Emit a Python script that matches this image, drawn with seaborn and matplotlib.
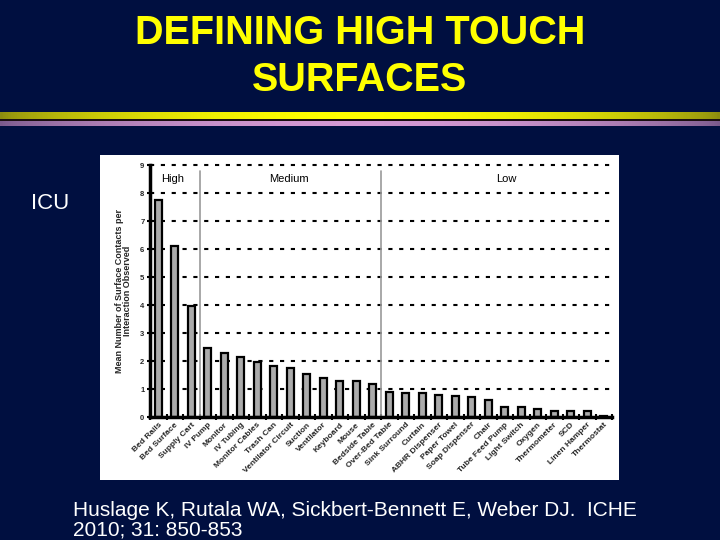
import numpy as np
import pandas as pd
import matplotlib
matplotlib.use("Agg")
import matplotlib.pyplot as plt
from matplotlib.patches import Rectangle
import seaborn as sns

surfaces = ["Bed Rails", "Bed Surface", "Supply Cart", "IV Pump", "Monitor",
            "IV Tubing", "Monitor Cables", "Trash Can", "Ventilator Circuit",
            "Suction", "Ventilator", "Keyboard", "Mouse", "Bedside Table",
            "Over-Bed Table", "Sink Surround", "Curtain", "ABHR Dispenser",
            "Paper Towel", "Soap Dispenser", "Chair", "Tube Feed Pump",
            "Light Switch", "Oxygen", "Thermometer", "SCD", "Linen Hamper",
            "Thermostat"]
contacts = [7.75, 6.1, 3.95, 2.45, 2.27, 2.15, 1.95, 1.83, 1.74, 1.54, 1.38,
            1.27, 1.27, 1.18, 0.89, 0.87, 0.87, 0.79, 0.74, 0.72, 0.62, 0.35,
            0.35, 0.27, 0.21, 0.22, 0.2, 0.05]
groups = ["High", "Medium", "Low"]
group_sizes = [3, 11, 14]

df = pd.DataFrame({"surface": surfaces, "contacts": contacts})

sns.set_theme(style="white")
plt.rcParams['font.family'] = ['Liberation Sans', 'DejaVu Sans']

navy = "#000f40"
fig = plt.figure(figsize=(7.2, 5.4), dpi=100, facecolor=navy)

# title
fig.text(0.5, 1 - 33 / 540, "DEFINING HIGH TOUCH", color="#ffff00",
         fontsize=28.5, fontweight="bold", ha="center", va="center")
fig.text(0.5, 1 - 80 / 540, "SURFACES", color="#ffff00",
         fontsize=28.5, fontweight="bold", ha="center", va="center")

# separator bars under the title
grad = np.sin(np.linspace(0, np.pi, 256)) ** 0.7
ax_y = fig.add_axes([0, 1 - 119 / 540, 1, 7 / 540])
ax_y.imshow(grad[None, :], aspect="auto", cmap=matplotlib.colors.LinearSegmentedColormap.from_list(
    "y", ["#8c8c10", "#ffff00"]), extent=[0, 1, 0, 1])
ax_y.set_axis_off()
ax_d = fig.add_axes([0, 1 - 121 / 540, 1, 2 / 540])
ax_d.set_facecolor("#1a1010")
ax_d.set_xticks([])
ax_d.set_yticks([])
for s in ax_d.spines.values():
    s.set_visible(False)
ax_p = fig.add_axes([0, 1 - 126 / 540, 1, 5 / 540])
ax_p.imshow(grad[None, :], aspect="auto", cmap=matplotlib.colors.LinearSegmentedColormap.from_list(
    "p", ["#7a5a8c", "#d49ad4"]), extent=[0, 1, 0, 1])
ax_p.set_axis_off()

fig.text(31 / 720, 1 - 203 / 540, "ICU", color="white", fontsize=16,
         ha="left", va="center")

# white picture panel
fig.patches.append(Rectangle((100 / 720, 1 - 480 / 540), 519 / 720, 325 / 540,
                             transform=fig.transFigure, facecolor="white",
                             edgecolor="none", zorder=-1))

ax = fig.add_axes([150 / 720, 1 - 417 / 540, 462 / 720, 252 / 540])
ax.set_facecolor("none")
sns.barplot(data=df, x="surface", y="contacts", color="#ababab",
            edgecolor="black", linewidth=1.6, width=0.42, saturation=1, ax=ax)

ax.set_ylim(0, 9)
ax.set_xlim(-0.42, len(surfaces) - 1 + 0.48)
ax.set_yticks(range(10))
for v in range(1, 10):
    ax.axhline(v, color="black", linestyle=(0, (2, 3.2)), linewidth=1.5,
               zorder=0, clip_on=False)

# group dividers and labels
edges = np.cumsum([0] + group_sizes) - 0.5
for e in edges[1:-1]:
    ax.plot([e, e], [0, 8.78], color="#999999", linewidth=1.2, zorder=1)
label_x = [0.9, 7.9, 21.1]
for g, lx in zip(groups, label_x):
    ax.text(lx, 8.5, g, fontsize=8, ha="center", va="center", color="black")

ax.set_xticks(range(len(surfaces)))
ax.set_xticklabels(surfaces, rotation=45, ha="right", rotation_mode="anchor",
                   fontsize=6, fontweight="bold")
ax.set_xticks(np.arange(len(surfaces) + 1) - 0.5, minor=True)
ax.tick_params(axis="x", which="major", length=0, pad=3)
ax.tick_params(axis="x", which="minor", length=4, width=1.5, direction="inout",
               bottom=True, color="black")
ax.tick_params(axis="y", length=4, width=1.5, direction="inout", left=True,
               labelsize=5.5, color="black", pad=2)
for t in ax.get_yticklabels():
    t.set_fontweight("bold")

ax.set_xlabel("")
ax.set_ylabel("Mean Number of Surface Contacts per\nInteraction Observed",
              fontsize=6.5, fontweight="bold", labelpad=6, linespacing=0.9)
sns.despine(ax=ax, top=True, right=True)
ax.spines["left"].set_linewidth(2.5)
ax.spines["bottom"].set_linewidth(2.5)
ax.spines["left"].set_color("black")
ax.spines["bottom"].set_color("black")

fig.text(73 / 720, 1 - 511 / 540,
         "Huslage K, Rutala WA, Sickbert-Bennett E, Weber DJ.  ICHE",
         color="white", fontsize=15, ha="left", va="center")
fig.text(73 / 720, 1 - 530 / 540, "2010; 31: 850-853",
         color="white", fontsize=15, ha="left", va="center")

fig.savefig("out.png", dpi=100, facecolor=navy)
